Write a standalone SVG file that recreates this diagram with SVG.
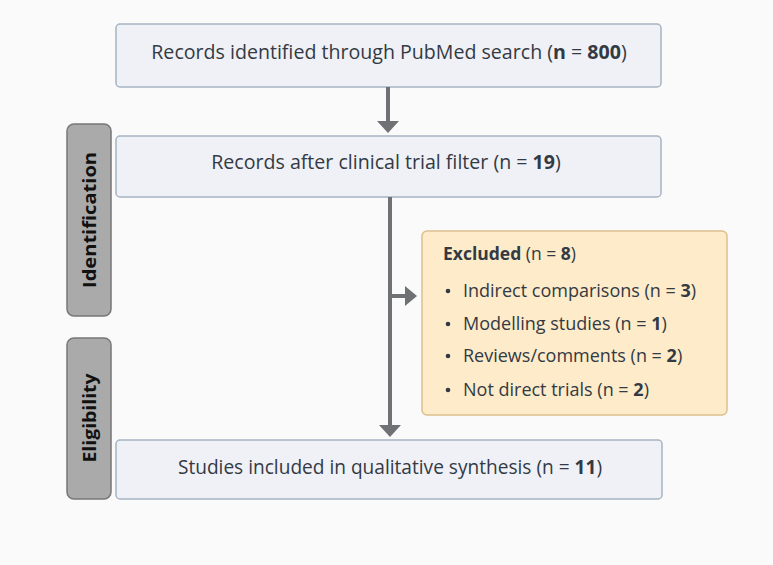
<svg xmlns="http://www.w3.org/2000/svg" width="773" height="565" viewBox="0 0 773 565">
<style>
.bg{fill:#fafafa}
.box{fill:#eff1f6;stroke:#a7b4c4;stroke-width:1.5}
.side{fill:#aaaaaa;stroke:#777;stroke-width:1.5}
.exc{fill:#fdebc9;stroke:#dcc08f;stroke-width:1.5}
text{font-family:"Open Sans","Noto Sans","Liberation Sans",sans-serif;fill:#333a44}
.t{font-size:19.6px}
.t2{font-size:19.1px}
.e{font-size:18px}
.et{font-size:17.5px}
.b{font-weight:bold}
.st{font-size:18px;font-weight:bold;fill:#111}
.conn{stroke:#6f7175;stroke-width:4;fill:none}
.head{fill:#6f7175}
.dot{fill:#333a44}
</style>
<rect class="bg" x="0" y="0" width="773" height="565"/>
<g id="label-identification">
<rect class="side" x="67" y="124" width="44" height="192" rx="7"/>
<text class="st" transform="translate(96,220) rotate(-90)" text-anchor="middle" textLength="136" lengthAdjust="spacingAndGlyphs">Identification</text>
</g>
<g id="label-eligibility">
<rect class="side" x="67" y="338" width="44" height="161" rx="7"/>
<text class="st" transform="translate(96,418) rotate(-90)" text-anchor="middle" textLength="89" lengthAdjust="spacingAndGlyphs">Eligibility</text>
</g>
<g id="n1">
<rect class="box" x="116" y="24" width="545" height="63" rx="4"/>
<text class="t" x="389" y="59" text-anchor="middle">Records identified through PubMed search  (<tspan class="b">n</tspan> = <tspan class="b">800</tspan>)</text>
</g>
<g id="n2">
<rect class="box" x="116" y="136" width="545" height="61" rx="4"/>
<text class="t" x="386" y="169" text-anchor="middle">Records after clinical trial filter (n = <tspan class="b">19</tspan>)</text>
</g>
<g id="n3">
<rect class="exc" x="422" y="231" width="305" height="184" rx="5"/>
<text class="et" x="443" y="260"><tspan class="b">Excluded</tspan> (n = <tspan class="b">8</tspan>)</text>
<circle class="dot" cx="448" cy="291" r="2.3"/>
<text class="e" x="463" y="296.5">Indirect comparisons (n = <tspan class="b">3</tspan>)</text>
<circle class="dot" cx="448" cy="324" r="2.3"/>
<text class="e" x="463" y="329.5">Modelling studies (n = <tspan class="b">1</tspan>)</text>
<circle class="dot" cx="448" cy="356" r="2.3"/>
<text class="e" x="463" y="361.5">Reviews/comments (n = <tspan class="b">2</tspan>)</text>
<circle class="dot" cx="448" cy="390" r="2.3"/>
<text class="e" x="463" y="395.5">Not direct trials (n = <tspan class="b">2</tspan>)</text>
</g>
<g id="n4">
<rect class="box" x="116" y="440" width="546" height="59" rx="4"/>
<text class="t2" x="390" y="474" text-anchor="middle">Studies included in qualitative synthesis (n = <tspan class="b">11</tspan>)</text>
</g>
<g id="connectors">
<line class="conn" x1="388" y1="87" x2="388" y2="122"/>
<polygon class="head" points="377,121 399,121 388,133"/>
<line class="conn" x1="390" y1="197" x2="390" y2="426"/>
<polygon class="head" points="379,425 401,425 390,437"/>
<line class="conn" x1="390" y1="296" x2="406" y2="296"/>
<polygon class="head" points="405,286 405,306 417,296"/>
</g>
</svg>
